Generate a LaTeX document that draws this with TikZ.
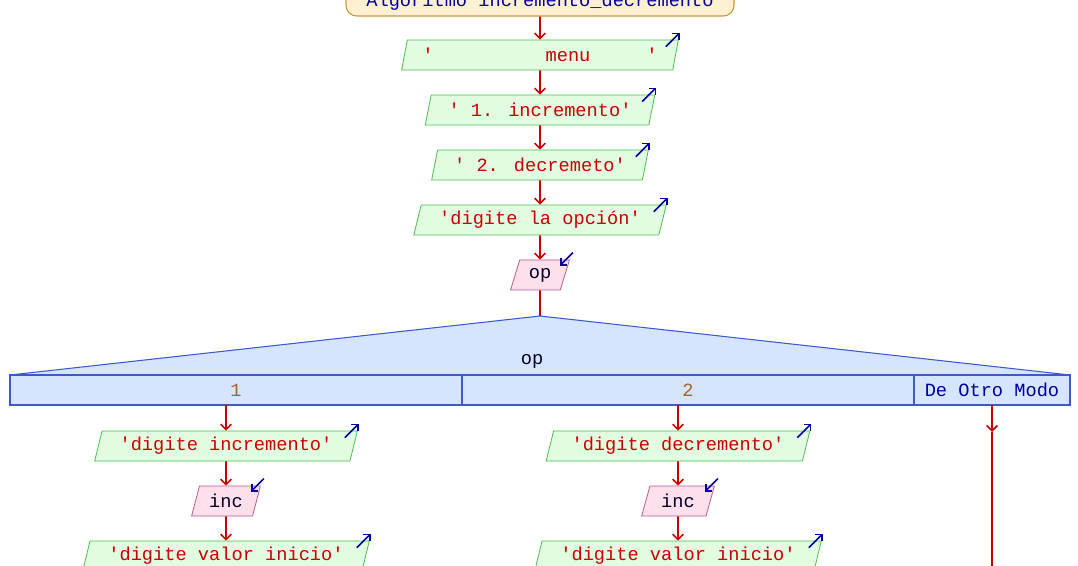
\documentclass[tikz,border=0pt]{standalone}
\usepackage{fontspec}
\setmainfont{Liberation Mono}
\usetikzlibrary{shapes.geometric,calc,arrows.meta}
\definecolor{cred}{HTML}{C80000}
\definecolor{cblue}{HTML}{0000A0}
\definecolor{cbrown}{HTML}{A0642C}
\definecolor{gfill}{HTML}{E2FCE2}
\definecolor{gline}{HTML}{4CBE4C}
\definecolor{pfill}{HTML}{FDE0EC}
\definecolor{pline}{HTML}{C0588C}
\definecolor{bfill}{HTML}{D6E4FE}
\definecolor{bline}{HTML}{3C5AC8}
\definecolor{ofill}{HTML}{FFF0D2}
\definecolor{oline}{HTML}{C8963C}
\newcommand{\q}{\textquotesingle}
\tikzset{
 x=0.75pt,y=-0.75pt,
 every node/.style={font=\fontsize{14pt}{16pt}\selectfont, inner sep=0pt},
 para/.style={trapezium, trapezium left angle=70, trapezium right angle=110, trapezium stretches=true, draw, line width=0.6pt, minimum height=22.5pt},
 outp/.style={para, fill=gfill, draw=gline, text=cred},
 inp/.style={para, fill=pfill, draw=pline, text=black!85!blue},
 flow/.style={draw=cred, line width=1.2pt, -{Straight Barb[length=4pt,width=8pt]}},
 ioarr/.style={draw=cblue, line width=1.2pt, -{Straight Barb[length=3.5pt,width=7pt]}},
}
\newcommand{\outarrow}[1]{\draw[ioarr] ($(#1.top right corner)+(-13,7)$) -- ++(14,-14);}
\newcommand{\inarrow}[1]{\draw[ioarr] ($(#1.top right corner)+(3,-7)$) -- ++(-13,13);}
\begin{document}
\begin{tikzpicture}
\useasboundingbox (0,0) rectangle (1078,566);
\node[draw=oline, fill=ofill, line width=0.8pt, rounded corners=8pt, minimum width=291pt, minimum height=21pt, text=cblue] (start) at (540,2) {Algoritmo incremento\_decremento};
\node[outp, minimum width=207.75pt] (menu) at (540,55) {\q\hspace{84pt}menu\hspace{42pt}\q};
\node[outp, minimum width=172.5pt] (m1) at (540,110) {\q{} 1. incremento\q};
\node[outp, minimum width=162.75pt] (m2) at (540,165) {\q{} 2. decremeto\q};
\node[outp, minimum width=189.75pt] (m3) at (540,220) {\q digite la opción\q};
\node[inp, minimum width=44.25pt] (op) at (540,275) {op};
% decision
\draw[draw=bline, fill=bfill, line width=0.8pt] (10,375) -- (540,316) -- (1070,375) -- cycle;
\draw[draw=bline, fill=bfill, line width=0.8pt] (10,375) rectangle (1070,405);
\draw[draw=bline, line width=0.8pt] (462,375) -- (462,405) (914,375) -- (914,405);
\coordinate (dtop) at (540,316);
\node[text=black!85!blue] (dlab) at (532,361) {op};
\node[text=cbrown] (l1) at (236,390) {1};
\node[text=cbrown] (l2) at (688,390) {2};
\node[text=cblue] (l3) at (992,390) {De Otro Modo};
\coordinate (c1) at (226,405);
\coordinate (c2) at (678,405);
\coordinate (c3) at (992,405);
\coordinate (c3a) at (992,432);
\coordinate (c3b) at (992,566);
% branch 1
\node[outp, minimum width=197.25pt] (a1) at (226,446) {\q digite incremento\q};
\node[inp, minimum width=51.75pt] (a2) at (226,501) {inc};
\node[outp, minimum width=215.25pt] (a3) at (226,556) {\q digite valor inicio\q};
% branch 2
\node[outp, minimum width=198pt] (b1) at (678,446) {\q digite decremento\q};
\node[inp, minimum width=54.75pt] (b2) at (678,501) {inc};
\node[outp, minimum width=215.25pt] (b3) at (678,556) {\q digite valor inicio\q};
% flows
\draw[flow] (start.south) -- (menu.north);
\draw[flow] (menu.south) -- (m1.north);
\draw[flow] (m1.south) -- (m2.north);
\draw[flow] (m2.south) -- (m3.north);
\draw[flow] (m3.south) -- (op.north);
\draw[draw=cred, line width=1.2pt] (op.south) -- (dtop);
\draw[flow] (c1) -- (a1.north);
\draw[flow] (a1.south) -- (a2.north);
\draw[flow] (a2.south) -- (a3.north);
\draw[flow] (c2) -- (b1.north);
\draw[flow] (b1.south) -- (b2.north);
\draw[flow] (b2.south) -- (b3.north);
\draw[flow] (c3) -- (c3a);
\draw[draw=cred, line width=1.2pt] (c3a) -- (c3b);
\outarrow{menu}\outarrow{m1}\outarrow{m2}\outarrow{m3}
\outarrow{a1}\outarrow{a3}\outarrow{b1}\outarrow{b3}
\inarrow{op}\inarrow{a2}\inarrow{b2}
\end{tikzpicture}
\end{document}
